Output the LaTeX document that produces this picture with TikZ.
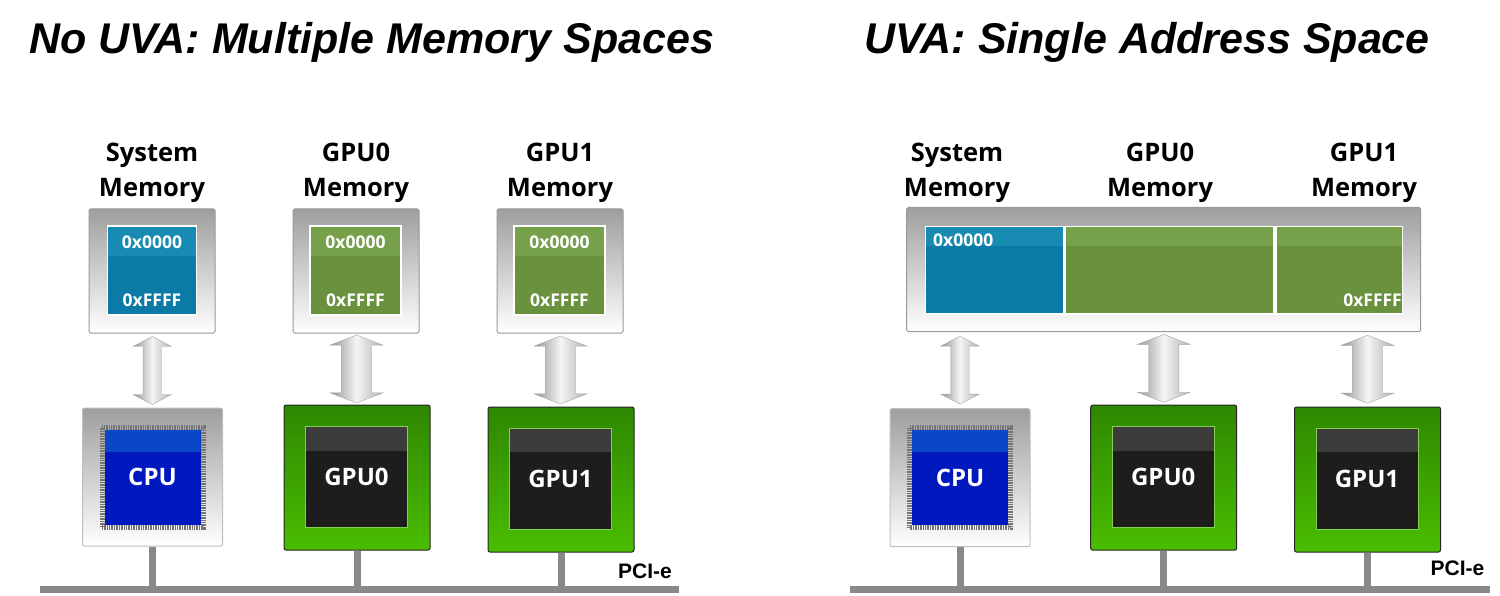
\documentclass[tikz,border=0pt]{standalone}
\usepackage{fontspec}
\setmainfont{Open Sans}
\newfontfamily\headfont{Liberation Sans}
\usetikzlibrary{shapes.arrows, calc}
\definecolor{sysblue}{HTML}{0B7AA6}
\definecolor{sysbluetop}{HTML}{188BB3}
\definecolor{gpumem}{HTML}{6A913E}
\definecolor{gpumemtop}{HTML}{76A04A}
\definecolor{cpublue}{HTML}{0019BF}
\definecolor{cpubluetop}{HTML}{0A46C8}
\definecolor{gputop}{HTML}{2E8700}
\definecolor{gpubot}{HTML}{4ABD00}
\definecolor{die}{HTML}{1D1D1D}
\definecolor{dietop}{HTML}{3C3C3C}
\definecolor{dieedge}{HTML}{86D050}
\definecolor{buscol}{HTML}{898989}

\begin{document}
\begin{tikzpicture}[x=1pt, y=-1pt,
  title/.style={font=\headfont\bfseries\itshape\fontsize{43}{43}\selectfont, anchor=base},
  memlabel/.style={font=\bfseries\fontsize{25.5}{35}\selectfont, align=center},
  addr/.style={font=\bfseries\fontsize{17.5}{17.5}\selectfont, text=white, inner sep=0pt},
  band/.style 2 args={path picture={\fill[#1] (path picture bounding box.north west) rectangle ([yshift=-#2]path picture bounding box.north east);}},
  membox/.style={draw=black!40, line width=1pt, rounded corners=1.5pt, top color=black!38, bottom color=white, minimum width=#1, minimum height=124pt, inner sep=0pt},
  membox/.default=126pt,
  sysarea/.style={draw=white, line width=1.5pt, fill=sysblue, band={sysbluetop}{#1}, minimum height=89pt, inner sep=0pt},
  gpuarea/.style={draw=white, line width=1.5pt, fill=gpumem, band={gpumemtop}{#1}, minimum height=89pt, inner sep=0pt},
  cpubox/.style={draw=black!25, line width=1pt, rounded corners=2pt, top color=black!38, bottom color=white, minimum width=140pt, minimum height=138pt},
  pins/.style={draw=black!55, line width=5pt, dash pattern=on .8pt off .9pt, minimum width=101pt, minimum height=100pt, inner sep=0pt},
  cpudie/.style={fill=cpublue, band={cpubluetop}{22pt}, minimum width=96pt, minimum height=95pt, inner sep=0pt},
  gpubox/.style={draw=black!85, line width=1pt, rounded corners=2pt, top color=gputop, bottom color=gpubot, minimum width=146pt, minimum height=145pt},
  gpudie/.style={draw=dieedge, line width=1pt, fill=die, band={dietop}{24pt}, minimum width=102pt, minimum height=101pt, inner sep=0pt},
  chiplabel/.style={font=\bfseries\fontsize{24}{24}\selectfont, text=white},
  link/.style={double arrow, draw=black!35, left color=black!42, right color=black!30, middle color=black!4, rotate=90, minimum height=68pt, inner sep=9pt, double arrow head extend=10pt, double arrow tip angle=125},
  biglink/.style={link, inner sep=15pt, double arrow head extend=11pt, double arrow tip angle=138},
  buswire/.style={draw=buscol, line width=7pt},
  pcie/.style={font=\headfont\bfseries\fontsize{21}{21}\selectfont}]
\useasboundingbox (0,0) rectangle (1500,596);

\node[title] (titleL) at (371.5,54) {No UVA: Multiple Memory Spaces};
\node[title] (titleR) at (1147,54) {UVA: Single Address Space};

\node[memlabel] (lblsysL) at (152,173) {System\\Memory};
\node[memlabel] (lblg0L) at (356,173) {GPU0\\Memory};
\node[memlabel] (lblg1L) at (560,173) {GPU1\\Memory};
\node[memlabel] (lblsysR) at (957,173) {System\\Memory};
\node[memlabel] (lblg0R) at (1160,173) {GPU0\\Memory};
\node[memlabel] (lblg1R) at (1364,173) {GPU1\\Memory};

\node[membox] (sysmem) at (152,271) {};
\node[sysarea=30pt, minimum width=89pt] (sysarea) at (152,270.5) {};
\node[addr] (sys0) at (sysarea.center |- 0,242) {0x0000};
\node[addr] (sysF) at (sysarea.center |- 0,300) {0xFFFF};
\node[membox] (g0mem) at (356,271) {};
\node[gpuarea=30pt, minimum width=91pt] (g0area) at (355.5,270.5) {};
\node[addr] (g00) at (g0area.center |- 0,242) {0x0000};
\node[addr] (g0F) at (g0area.center |- 0,300) {0xFFFF};
\node[membox] (g1mem) at (560,271) {};
\node[gpuarea=30pt, minimum width=91pt] (g1area) at (559.5,270.5) {};
\node[addr] (g10) at (g1area.center |- 0,242) {0x0000};
\node[addr] (g1F) at (g1area.center |- 0,300) {0xFFFF};

\node[cpubox] (cpuL) at (152.5,477) {};
\node[pins] (pinsL) at (cpuL.center) {};
\node[cpudie] (dieL) at (cpuL.center) {};
\node[chiplabel] at (dieL.center) {CPU};
\node[gpubox] (gpu0L) at (357,477.5) {};
\node[gpudie] (die0L) at (356.5,477) {};
\node[chiplabel] at (die0L.center) {GPU0};
\node[gpubox] (gpu1L) at (561,479.5) {};
\node[gpudie] (die1L) at (560.5,478.8) {};
\node[chiplabel] at (die1L.center) {GPU1};

\node[link] (linksysL) at ($(sysmem.south)!.5!(cpuL.north)$) {};
\node[biglink] (link0L) at ($(g0mem.south)!.5!(gpu0L.north)$) {};
\node[biglink] (link1L) at ($(g1mem.south)!.5!(gpu1L.north)$) {};

\coordinate (busLa) at (40,589.5);
\coordinate (busLb) at (679,589.5);
\draw[buswire] (cpuL.south) -- (cpuL.south |- busLa);
\draw[buswire] (gpu0L.south) -- (gpu0L.south |- busLa);
\draw[buswire] (gpu1L.south) -- (gpu1L.south |- busLa);
\draw[buswire] (busLa) -- (busLb);
\node[pcie] (pcieL) at (645,571) {PCI-e};

\node[membox=514pt] (bigmem) at (1163.7,269.5) {};
\node[sysarea=20pt, minimum width=138.3pt, minimum height=87.5pt] (sysR) at (994.85,270.25) {};
\node[gpuarea=20pt, minimum width=208.3pt, minimum height=87.5pt] (g0R) at (1169.85,270.25) {};
\node[gpuarea=20pt, minimum width=126.3pt, minimum height=87.5pt] (g1R) at (1339.15,270.25) {};
\node[addr, anchor=west] (sys0R) at (933,240) {0x0000};
\node[addr, anchor=east] (g1FR) at (1402,300) {0xFFFF};

\node[cpubox] (cpuR) at (960,477.7) {};
\node[pins] (pinsR) at (cpuR.center) {};
\node[cpudie] (dieR) at (cpuR.center) {};
\node[chiplabel] at (dieR.center) {CPU};
\node[gpubox] (gpu0R) at (1163.7,477.7) {};
\node[gpudie] (die0R) at (1163.2,477.2) {};
\node[chiplabel] at (die0R.center) {GPU0};
\node[gpubox] (gpu1R) at (1367.5,479.5) {};
\node[gpudie] (die1R) at (1367,478.8) {};
\node[chiplabel] at (die1R.center) {GPU1};

\node[link] (linksysR) at ($(bigmem.south -| cpuR.north)!.5!(cpuR.north)$) {};
\node[biglink] (link0R) at ($(bigmem.south -| gpu0R.north)!.5!(gpu0R.north)$) {};
\node[biglink] (link1R) at ($(bigmem.south -| gpu1R.north)!.5!(gpu1R.north)$) {};

\coordinate (busRa) at (850,589);
\coordinate (busRb) at (1490,589);
\draw[buswire] (cpuR.south) -- (cpuR.south |- busRa);
\draw[buswire] (gpu0R.south) -- (gpu0R.south |- busRa);
\draw[buswire] (gpu1R.south) -- (gpu1R.south |- busRa);
\draw[buswire] (busRa) -- (busRb);
\node[pcie] (pcieR) at (1457.5,568) {PCI-e};
\end{tikzpicture}
\end{document}
